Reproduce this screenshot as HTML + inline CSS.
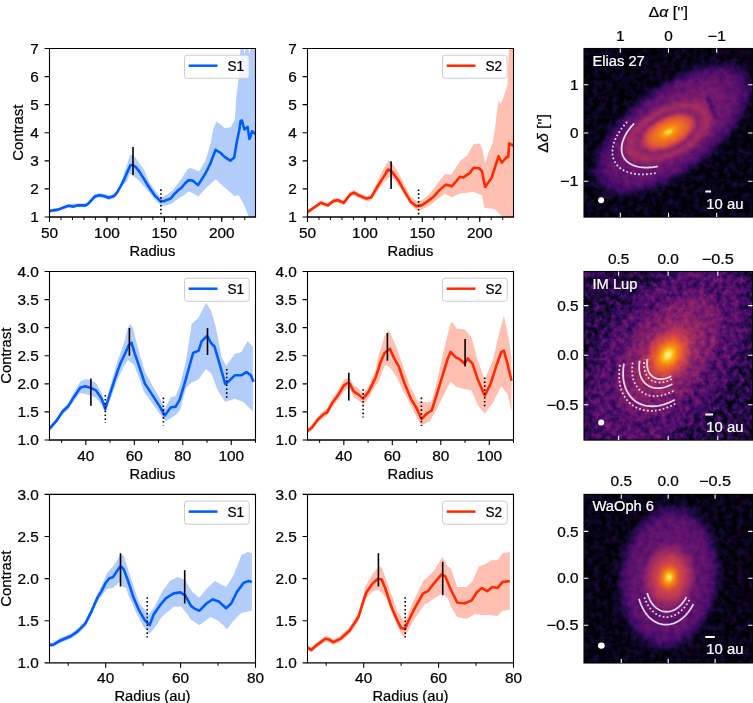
<!DOCTYPE html>
<html><head><meta charset="utf-8"><style>html,body{margin:0;padding:0;background:#fff;width:753px;height:703px;overflow:hidden}svg{display:block;will-change:transform}</style></head>
<body>
<svg width="753" height="703" viewBox="0 0 753 703" font-family="Liberation Sans, sans-serif" font-size="14" stroke-width="0.22">
<rect width="753" height="703" fill="#fff"/>
<defs>
<clipPath id="c11"><rect x="49.5" y="48.5" width="206" height="168.5"/></clipPath>
<clipPath id="c12"><rect x="307.5" y="48.5" width="206" height="168.5"/></clipPath>
<clipPath id="c21"><rect x="49.5" y="271.5" width="206" height="168.5"/></clipPath>
<clipPath id="c22"><rect x="307.5" y="271.5" width="206" height="168.5"/></clipPath>
<clipPath id="c31"><rect x="49.5" y="494.4" width="206" height="168.5"/></clipPath>
<clipPath id="c32"><rect x="307.5" y="494.4" width="206" height="168.5"/></clipPath>
</defs>
<g clip-path="url(#c11)">
<polygon points="49.5,209.6 58,208 68.5,204 78,203.5 86,203.6 94.7,194.4 99.2,193 104,193.8 108.7,195.6 114,193.6 117,190.5 120.7,183.8 123.5,175.1 127.5,163 129.9,155.3 132.7,154.8 137.3,160.3 143.8,169.6 150,183.3 155.5,190.7 160.2,197.2 163.9,196.2 168.5,193.5 172.2,191.1 175.9,186.1 182.3,177.7 187,169.4 190.7,168 196.2,170.3 199,171.6 205.4,160.7 210.5,144.1 213,130 216.2,121.8 220.7,124.4 224.6,128.2 231,127 234.8,119.3 236.1,100 238.7,77 240.6,47.5 243.6,47.5 244.6,54.5 245.6,47.5 248.2,47.5 249.3,54.5 250.4,47.5 256,47.5 256,217 248.9,217 243.8,204.3 238.7,195.3 234.2,195.9 230,192 223.3,186.3 215.6,179.3 206.6,187.6 198.3,196.6 193.4,193.5 188.8,191.6 182.3,196.2 177.7,199 171.3,204.1 163.9,205.9 161.1,205.5 155.5,200.4 150,193.5 143.8,186.2 137.3,178.8 132.7,176.1 129.9,173.3 127,182 123.5,184.4 120.7,188.6 117,195 114,198.2 108.7,200 104,198.2 99.2,197.4 94.7,198.8 86,207.2 78,207 68.5,207.4 58,211.2 49.5,212.8" fill="#b3cdfb"/>
<polyline points="49.5,211.2 50.3,210.8 58.2,209.6 62.8,207.7 68.5,205.7 73.6,206.6 78.2,205.2 85.6,205.4 88.4,203.7 94.7,196.6 99.2,195.2 103.8,196 108.7,197.8 114.2,195.9 117,192.7 120.7,186.2 124.4,178.8 127.6,171.4 130.4,165.4 132.7,165 135.5,166.8 139.2,171.4 143.8,178.8 150,188.8 154.6,195.3 160.2,200.9 163.9,201.3 166.6,199.9 170.8,198.5 174,194.4 178.7,189.8 181.4,187.9 185.1,183.3 188.8,180.1 192.5,180.5 198.1,185.1 205.4,173.5 210.5,163.3 215.6,149.8 220.7,153 224.6,156.9 230.3,160.7 234.2,157.5 236.7,142.8 239.3,130 240.6,121 241.9,120.5 244.4,129.5 247.6,127 249.5,139 252.1,131.3 255.3,133.8 256,133" fill="none" stroke="#005cff" stroke-width="2.6" stroke-linejoin="round" stroke-linecap="butt"/>
<line x1="133" y1="147" x2="133" y2="175" stroke="#000" stroke-width="1.6"/>
<line x1="160.9" y1="189.3" x2="160.9" y2="216.5" stroke="#000" stroke-width="1.6" stroke-dasharray="1.6 2.3"/>
</g>
<path d="M49.5 217V48.5H255.5V217" fill="none" stroke="#000" stroke-width="1.1"/>
<path d="M48.95 217H256.05" stroke="#000" stroke-width="1.3"/>
<path d="M49.5 217v4.9 M106.91 217v4.9 M164.33 217v4.9 M221.74 217v4.9" stroke="#000" stroke-width="1.1"/>
<path d="M60.98 217v2.9 M72.47 217v2.9 M83.95 217v2.9 M95.43 217v2.9 M106.91 217v2.9 M118.4 217v2.9 M129.88 217v2.9 M141.36 217v2.9 M152.84 217v2.9 M164.33 217v2.9 M175.81 217v2.9 M187.29 217v2.9 M198.78 217v2.9 M210.26 217v2.9 M221.74 217v2.9 M233.22 217v2.9 M244.71 217v2.9" stroke="#000" stroke-width="1.0"/>
<path d="M49.5 217h-4.9 M49.5 188.92h-4.9 M49.5 160.83h-4.9 M49.5 132.75h-4.9 M49.5 104.67h-4.9 M49.5 76.58h-4.9 M49.5 48.5h-4.9" stroke="#000" stroke-width="1.1"/>
<text x="38.9" y="222.1" text-anchor="end" stroke="#000" textLength="8.56" lengthAdjust="spacingAndGlyphs">1</text>
<text x="38.9" y="194.02" text-anchor="end" stroke="#000" textLength="8.56" lengthAdjust="spacingAndGlyphs">2</text>
<text x="38.9" y="165.93" text-anchor="end" stroke="#000" textLength="8.56" lengthAdjust="spacingAndGlyphs">3</text>
<text x="38.9" y="137.85" text-anchor="end" stroke="#000" textLength="8.56" lengthAdjust="spacingAndGlyphs">4</text>
<text x="38.9" y="109.77" text-anchor="end" stroke="#000" textLength="8.56" lengthAdjust="spacingAndGlyphs">5</text>
<text x="38.9" y="81.68" text-anchor="end" stroke="#000" textLength="8.56" lengthAdjust="spacingAndGlyphs">6</text>
<text x="38.9" y="53.6" text-anchor="end" stroke="#000" textLength="8.56" lengthAdjust="spacingAndGlyphs">7</text>
<text x="49.5" y="238.3" text-anchor="middle" stroke="#000" textLength="17.13" lengthAdjust="spacingAndGlyphs">50</text>
<text x="106.91" y="238.3" text-anchor="middle" stroke="#000" textLength="25.69" lengthAdjust="spacingAndGlyphs">100</text>
<text x="164.33" y="238.3" text-anchor="middle" stroke="#000" textLength="25.69" lengthAdjust="spacingAndGlyphs">150</text>
<text x="221.74" y="238.3" text-anchor="middle" stroke="#000" textLength="25.69" lengthAdjust="spacingAndGlyphs">200</text>
<text x="152.5" y="256.1" text-anchor="middle" stroke="#000" textLength="45.76" lengthAdjust="spacingAndGlyphs">Radius</text>
<g transform="translate(23.3 132.75) rotate(-90)"><text x="0" y="0" text-anchor="middle" stroke="#000" textLength="56.08" lengthAdjust="spacingAndGlyphs">Contrast</text></g>
<rect x="184.5" y="55.2" width="64.7" height="23.1" rx="2.8" fill="#fff" fill-opacity="0.8" stroke="#ccc" stroke-width="1"/>
<line x1="188.7" y1="65.7" x2="217.5" y2="65.7" stroke="#005cff" stroke-width="2.5"/>
<text x="227.4" y="70.7" stroke="#000" textLength="16.61" lengthAdjust="spacingAndGlyphs">S1</text>
<g clip-path="url(#c12)">
<polygon points="307.5,210.5 314.1,205.5 320.9,200.6 327.8,203.2 333.4,198.6 338,198 343.7,200.6 350.5,191.6 353.9,190 359.6,193.3 366.5,196 371,194.8 376.7,183 383.7,168 388.7,160.5 392,163 397.9,171.5 403.6,183 410.7,196.5 417.9,201.8 422.1,200 427.8,195.5 433.5,189 439.2,181 444.9,174 448,174.2 451.2,174.8 460.2,160.7 467.2,155.6 473.6,144.1 480,143.4 482.6,150.5 485.1,163.9 488.3,153 492.8,142.8 494.1,134.6 498.6,100 500.5,103.9 503.1,98.8 506.3,88.5 507.5,84.7 508.8,50.1 510.7,47 514,47 514,217.5 502,217.5 500.5,215.1 496.7,210.7 492.8,208.7 484.5,208.1 481.9,195.3 473.6,192.1 460.2,193.4 451.8,197.2 448,195.3 444.9,194 439.2,198 433.5,202.5 427.8,206.5 422.1,209.5 416.4,210.3 410.7,205 405,196 400,188 395,180 390,176.5 383.7,183 376.7,192 371,200.2 366.5,201.2 359.6,198.3 353.9,195.2 350.5,196.6 343.7,205.2 338,202.6 333.4,203.2 327.8,207.6 320.9,205 314.1,209.6 307.5,214.2" fill="#ffc0b2"/>
<polyline points="307.5,212.3 307.8,211.9 314.1,207.5 320.9,202.8 327.8,205.4 333.4,200.9 338,200.3 343.7,202.9 350.5,194.1 353.9,192.6 359.6,195.8 366.5,198.6 371,197.5 376.7,187.8 383.7,176.9 388,169.5 392.2,171.9 397.9,179.7 403.6,189.7 410.7,201.8 416.4,206.1 422.1,205.1 427.8,201.1 433.5,196.8 439.2,190.4 445.6,184.7 448,185.1 451.8,186.3 460.2,176.7 463.4,177.4 469.8,172.9 473.6,167.8 479.4,168.4 481.9,171 485.1,187 491.5,178 498.6,156.2 501.8,162.7 506.9,156.9 508.2,156.9 509.2,143.4 512.7,145.4 514,144" fill="none" stroke="#ff2a00" stroke-width="2.6" stroke-linejoin="round" stroke-linecap="butt"/>
<line x1="391.1" y1="161.3" x2="391.1" y2="189" stroke="#000" stroke-width="1.6"/>
<line x1="418.6" y1="189.4" x2="418.6" y2="216.5" stroke="#000" stroke-width="1.6" stroke-dasharray="1.6 2.3"/>
</g>
<path d="M307.5 217V48.5H513.5V217" fill="none" stroke="#000" stroke-width="1.1"/>
<path d="M306.95 217H514.05" stroke="#000" stroke-width="1.3"/>
<path d="M307.5 217v4.9 M364.91 217v4.9 M422.33 217v4.9 M479.74 217v4.9" stroke="#000" stroke-width="1.1"/>
<path d="M318.98 217v2.9 M330.47 217v2.9 M341.95 217v2.9 M353.43 217v2.9 M364.91 217v2.9 M376.4 217v2.9 M387.88 217v2.9 M399.36 217v2.9 M410.84 217v2.9 M422.33 217v2.9 M433.81 217v2.9 M445.29 217v2.9 M456.78 217v2.9 M468.26 217v2.9 M479.74 217v2.9 M491.22 217v2.9 M502.71 217v2.9" stroke="#000" stroke-width="1.0"/>
<path d="M307.5 217h-4.9 M307.5 188.92h-4.9 M307.5 160.83h-4.9 M307.5 132.75h-4.9 M307.5 104.67h-4.9 M307.5 76.58h-4.9 M307.5 48.5h-4.9" stroke="#000" stroke-width="1.1"/>
<text x="296.9" y="222.1" text-anchor="end" stroke="#000" textLength="8.56" lengthAdjust="spacingAndGlyphs">1</text>
<text x="296.9" y="194.02" text-anchor="end" stroke="#000" textLength="8.56" lengthAdjust="spacingAndGlyphs">2</text>
<text x="296.9" y="165.93" text-anchor="end" stroke="#000" textLength="8.56" lengthAdjust="spacingAndGlyphs">3</text>
<text x="296.9" y="137.85" text-anchor="end" stroke="#000" textLength="8.56" lengthAdjust="spacingAndGlyphs">4</text>
<text x="296.9" y="109.77" text-anchor="end" stroke="#000" textLength="8.56" lengthAdjust="spacingAndGlyphs">5</text>
<text x="296.9" y="81.68" text-anchor="end" stroke="#000" textLength="8.56" lengthAdjust="spacingAndGlyphs">6</text>
<text x="296.9" y="53.6" text-anchor="end" stroke="#000" textLength="8.56" lengthAdjust="spacingAndGlyphs">7</text>
<text x="307.5" y="238.3" text-anchor="middle" stroke="#000" textLength="17.13" lengthAdjust="spacingAndGlyphs">50</text>
<text x="364.91" y="238.3" text-anchor="middle" stroke="#000" textLength="25.69" lengthAdjust="spacingAndGlyphs">100</text>
<text x="422.33" y="238.3" text-anchor="middle" stroke="#000" textLength="25.69" lengthAdjust="spacingAndGlyphs">150</text>
<text x="479.74" y="238.3" text-anchor="middle" stroke="#000" textLength="25.69" lengthAdjust="spacingAndGlyphs">200</text>
<text x="410.5" y="256.1" text-anchor="middle" stroke="#000" textLength="45.76" lengthAdjust="spacingAndGlyphs">Radius</text>
<rect x="442.5" y="55.2" width="64.7" height="23.1" rx="2.8" fill="#fff" fill-opacity="0.8" stroke="#ccc" stroke-width="1"/>
<line x1="446.7" y1="65.7" x2="475.5" y2="65.7" stroke="#ff2a00" stroke-width="2.5"/>
<text x="485.4" y="70.7" stroke="#000" textLength="16.61" lengthAdjust="spacingAndGlyphs">S2</text>
<g clip-path="url(#c21)">
<polygon points="49.5,426.5 56.3,418.4 62.8,408.6 68.3,403.2 73.9,392.5 80.3,381.5 85,379.3 90.5,380 96,383 101.6,393 105.3,403.4 110.8,384 118.2,359 124,343 128,327.6 130,323.9 133,328 136,340 140,355 145,372 152.8,386 159.8,398 164.8,408.5 170.7,397.6 175.7,396 180,385 185.7,362 190,335 191.6,323.9 198.5,317.7 206,302.8 211.3,311.3 215.6,326.3 222,358.3 226.2,365.7 234.8,354 241.2,351.9 247.6,341.2 252.9,346.5 252.9,411.6 243.3,402 234.8,398.8 225.2,402 217.7,390.3 211.3,373.2 206,368.9 198.5,379.6 191,383 186,388 180,410 176,415 171.7,417.5 165.8,421.5 159.8,414 152.8,404 144,392 138,375 134,365 130,361.7 128,360 124,366 118.2,378 110.8,398 105.3,412.6 101.6,405 96,398 90.5,395.5 85,394.1 80.3,393 73.9,401 68.3,409.2 62.8,414 56.3,423.4 49.5,431.5" fill="#b3cdfb"/>
<polyline points="49.5,429 49.8,428.3 56.3,420.9 62.8,411.3 68.3,406.2 73.9,396.9 80.3,387.7 85,386.2 90.5,387.7 96,390.4 101.6,398.8 105.3,408.9 110.8,391.4 118.2,369.2 121,362 125,353.8 129,344.8 131.5,342.8 134.9,353.8 138.9,365.7 144.9,383.6 152.8,395.6 159.8,406.6 164.8,415.5 170.7,407.5 175.7,406.6 179.7,399.6 185.7,379.7 190,364 193.2,352.9 198.5,350.8 201.7,341.2 207.1,335.9 211.3,343.3 214.5,346.5 219.8,364.7 225.2,383.9 229.4,380.7 234.8,375.3 241.2,375.3 246.5,372.1 250.8,375.3 253.5,381.7" fill="none" stroke="#005cff" stroke-width="2.6" stroke-linejoin="round" stroke-linecap="butt"/>
<line x1="90.9" y1="378.4" x2="90.9" y2="405.8" stroke="#000" stroke-width="1.6"/>
<line x1="129.4" y1="327.9" x2="129.4" y2="355.8" stroke="#000" stroke-width="1.6"/>
<line x1="207.5" y1="328" x2="207.5" y2="355.1" stroke="#000" stroke-width="1.6"/>
<line x1="105.3" y1="395" x2="105.3" y2="422.8" stroke="#000" stroke-width="1.6" stroke-dasharray="1.6 2.3"/>
<line x1="163.4" y1="397.6" x2="163.4" y2="425.5" stroke="#000" stroke-width="1.6" stroke-dasharray="1.6 2.3"/>
<line x1="226.7" y1="368.9" x2="226.7" y2="397.7" stroke="#000" stroke-width="1.6" stroke-dasharray="1.6 2.3"/>
</g>
<path d="M49.5 440V271.5H255.5V440" fill="none" stroke="#000" stroke-width="1.1"/>
<path d="M48.95 440H256.05" stroke="#000" stroke-width="1.3"/>
<path d="M85.85 440v4.9 M134.32 440v4.9 M182.79 440v4.9 M231.26 440v4.9" stroke="#000" stroke-width="1.1"/>
<path d="M61.62 440v2.9 M110.09 440v2.9 M158.56 440v2.9 M207.03 440v2.9 M255.5 440v2.9" stroke="#000" stroke-width="1.0"/>
<path d="M49.5 440h-4.9 M49.5 411.92h-4.9 M49.5 383.83h-4.9 M49.5 355.75h-4.9 M49.5 327.67h-4.9 M49.5 299.58h-4.9 M49.5 271.5h-4.9" stroke="#000" stroke-width="1.1"/>
<text x="38.9" y="445.1" text-anchor="end" stroke="#000" textLength="21.41" lengthAdjust="spacingAndGlyphs">1.0</text>
<text x="38.9" y="417.02" text-anchor="end" stroke="#000" textLength="21.41" lengthAdjust="spacingAndGlyphs">1.5</text>
<text x="38.9" y="388.93" text-anchor="end" stroke="#000" textLength="21.41" lengthAdjust="spacingAndGlyphs">2.0</text>
<text x="38.9" y="360.85" text-anchor="end" stroke="#000" textLength="21.41" lengthAdjust="spacingAndGlyphs">2.5</text>
<text x="38.9" y="332.77" text-anchor="end" stroke="#000" textLength="21.41" lengthAdjust="spacingAndGlyphs">3.0</text>
<text x="38.9" y="304.68" text-anchor="end" stroke="#000" textLength="21.41" lengthAdjust="spacingAndGlyphs">3.5</text>
<text x="38.9" y="276.6" text-anchor="end" stroke="#000" textLength="21.41" lengthAdjust="spacingAndGlyphs">4.0</text>
<text x="85.85" y="460.9" text-anchor="middle" stroke="#000" textLength="17.13" lengthAdjust="spacingAndGlyphs">40</text>
<text x="134.32" y="460.9" text-anchor="middle" stroke="#000" textLength="17.13" lengthAdjust="spacingAndGlyphs">60</text>
<text x="182.79" y="460.9" text-anchor="middle" stroke="#000" textLength="17.13" lengthAdjust="spacingAndGlyphs">80</text>
<text x="231.26" y="460.9" text-anchor="middle" stroke="#000" textLength="25.69" lengthAdjust="spacingAndGlyphs">100</text>
<text x="152.5" y="479.2" text-anchor="middle" stroke="#000" textLength="45.76" lengthAdjust="spacingAndGlyphs">Radius</text>
<g transform="translate(10.6 355.75) rotate(-90)"><text x="0" y="0" text-anchor="middle" stroke="#000" textLength="56.08" lengthAdjust="spacingAndGlyphs">Contrast</text></g>
<rect x="184.5" y="278.2" width="64.7" height="23.1" rx="2.8" fill="#fff" fill-opacity="0.8" stroke="#ccc" stroke-width="1"/>
<line x1="188.7" y1="288.7" x2="217.5" y2="288.7" stroke="#005cff" stroke-width="2.5"/>
<text x="227.4" y="293.7" stroke="#000" textLength="16.61" lengthAdjust="spacingAndGlyphs">S1</text>
<g clip-path="url(#c22)">
<polygon points="307.5,428.5 312,424.8 317.9,416.5 323.9,410.5 326.9,408.8 331.9,399.5 337.8,390.8 343.8,380 347.8,377.7 350,378 353.8,385.5 358.7,388.5 363.1,393.6 368.7,386 375.6,370 378,357.8 384.6,335.8 388.9,329.9 395.9,345.8 403.9,368.7 410,386 417.8,401.6 422,401.5 427.8,402.6 431.7,401.6 437.7,378 443.7,350 450.6,322.9 452.3,322 456.5,328.4 465.1,329.5 471.4,336.9 477.8,360.4 484.7,379.6 492.8,360.4 499.2,332.7 503.9,315.6 508.8,339.1 511.5,358.3 511.5,411.6 507.7,394.5 501.3,386 492.8,403.1 484.7,413.7 477.8,405.2 471.4,390.3 465.1,389.2 456.5,387.1 450.6,381.7 443.7,395 437.7,407.5 429.7,421.5 421.4,425.5 416,416 409.8,403.6 403.9,392 397.9,379.7 392,370 388,365.7 384.6,365.7 378,383.6 375.6,385 368.7,398 363.7,404.6 358.7,400.5 353.8,397.5 350,389.5 347.8,388.6 343.8,391.2 337.8,400.4 331.9,407.7 326.9,416.2 323.9,417.3 317.9,422.5 312,430.2 307.5,433.5" fill="#ffc0b2"/>
<polyline points="307.5,431 312,427.5 317.9,419.5 323.9,413.9 326.9,412.5 331.9,403.6 337.8,395.6 343.8,385.6 347.8,382.7 349.8,383.6 353.8,391.6 358.7,394.6 363.1,398.6 368.7,391.6 375.6,377.7 380.6,362 384.6,353 389.9,348.8 393.9,357.8 398.9,366.7 403.9,381.7 410.8,398.6 416.8,408.5 421.4,419.1 426.8,413.5 431.7,410.5 437.7,391.6 443.7,371.7 448,358 450.6,351.9 455.5,357.2 459.7,359.3 464.6,363.6 467.6,358.3 472.5,363.6 477.8,379.6 484.7,395.6 490.6,383.9 496,366.8 501.3,351.9 503.9,350.8 507.7,364.7 511.5,380.7" fill="none" stroke="#ff2a00" stroke-width="2.6" stroke-linejoin="round" stroke-linecap="butt"/>
<line x1="348.8" y1="372.7" x2="348.8" y2="400.6" stroke="#000" stroke-width="1.6"/>
<line x1="387.4" y1="332.9" x2="387.4" y2="360.7" stroke="#000" stroke-width="1.6"/>
<line x1="465.1" y1="339.1" x2="465.1" y2="366.4" stroke="#000" stroke-width="1.6"/>
<line x1="363.1" y1="389.2" x2="363.1" y2="417.5" stroke="#000" stroke-width="1.6" stroke-dasharray="1.6 2.3"/>
<line x1="421.4" y1="397.6" x2="421.4" y2="425.9" stroke="#000" stroke-width="1.6" stroke-dasharray="1.6 2.3"/>
<line x1="484.7" y1="377.5" x2="484.7" y2="406.3" stroke="#000" stroke-width="1.6" stroke-dasharray="1.6 2.3"/>
</g>
<path d="M307.5 440V271.5H513.5V440" fill="none" stroke="#000" stroke-width="1.1"/>
<path d="M306.95 440H514.05" stroke="#000" stroke-width="1.3"/>
<path d="M343.85 440v4.9 M392.32 440v4.9 M440.79 440v4.9 M489.26 440v4.9" stroke="#000" stroke-width="1.1"/>
<path d="M319.62 440v2.9 M368.09 440v2.9 M416.56 440v2.9 M465.03 440v2.9 M513.5 440v2.9" stroke="#000" stroke-width="1.0"/>
<path d="M307.5 440h-4.9 M307.5 411.92h-4.9 M307.5 383.83h-4.9 M307.5 355.75h-4.9 M307.5 327.67h-4.9 M307.5 299.58h-4.9 M307.5 271.5h-4.9" stroke="#000" stroke-width="1.1"/>
<text x="296.9" y="445.1" text-anchor="end" stroke="#000" textLength="21.41" lengthAdjust="spacingAndGlyphs">1.0</text>
<text x="296.9" y="417.02" text-anchor="end" stroke="#000" textLength="21.41" lengthAdjust="spacingAndGlyphs">1.5</text>
<text x="296.9" y="388.93" text-anchor="end" stroke="#000" textLength="21.41" lengthAdjust="spacingAndGlyphs">2.0</text>
<text x="296.9" y="360.85" text-anchor="end" stroke="#000" textLength="21.41" lengthAdjust="spacingAndGlyphs">2.5</text>
<text x="296.9" y="332.77" text-anchor="end" stroke="#000" textLength="21.41" lengthAdjust="spacingAndGlyphs">3.0</text>
<text x="296.9" y="304.68" text-anchor="end" stroke="#000" textLength="21.41" lengthAdjust="spacingAndGlyphs">3.5</text>
<text x="296.9" y="276.6" text-anchor="end" stroke="#000" textLength="21.41" lengthAdjust="spacingAndGlyphs">4.0</text>
<text x="343.85" y="460.9" text-anchor="middle" stroke="#000" textLength="17.13" lengthAdjust="spacingAndGlyphs">40</text>
<text x="392.32" y="460.9" text-anchor="middle" stroke="#000" textLength="17.13" lengthAdjust="spacingAndGlyphs">60</text>
<text x="440.79" y="460.9" text-anchor="middle" stroke="#000" textLength="17.13" lengthAdjust="spacingAndGlyphs">80</text>
<text x="489.26" y="460.9" text-anchor="middle" stroke="#000" textLength="25.69" lengthAdjust="spacingAndGlyphs">100</text>
<text x="410.5" y="479.2" text-anchor="middle" stroke="#000" textLength="45.76" lengthAdjust="spacingAndGlyphs">Radius</text>
<rect x="442.5" y="278.2" width="64.7" height="23.1" rx="2.8" fill="#fff" fill-opacity="0.8" stroke="#ccc" stroke-width="1"/>
<line x1="446.7" y1="288.7" x2="475.5" y2="288.7" stroke="#ff2a00" stroke-width="2.5"/>
<text x="485.4" y="293.7" stroke="#000" textLength="16.61" lengthAdjust="spacingAndGlyphs">S2</text>
<g clip-path="url(#c31)">
<polygon points="49.5,643 53.3,642.4 60.4,638 71.1,633.4 77.3,628.8 85.3,620.5 91.6,607.6 97.8,592.8 101.3,586.5 106.7,573.8 112,567.6 116,562 121,554 123.8,555.9 129.6,574.2 139.2,603 148.8,614.5 154.5,606.8 162.2,591.5 169.9,580.9 177.6,577.1 185.2,579.9 191.9,591.5 199.3,597.4 206.5,589.1 214.7,580.9 226.1,587 233.3,575.7 241.5,555.1 247.7,552 251.8,553 251.8,610.8 241.5,612.8 233.3,621.1 227.1,629.3 218.8,621.1 210.6,617 199.3,625.2 190,619 189.1,616.4 181.4,606.8 173.7,606.8 162.2,616.4 154.5,628 149.7,633.7 143,626 135.3,610.7 127.7,593.4 126.2,588 121,585.7 120,581.8 112.9,588 106.7,588.9 101.3,596.7 97.8,601 91.6,614.6 85.3,626.7 77.3,634.4 71.1,638.6 60.4,643 53.3,646.8 49.5,647" fill="#b3cdfb"/>
<polyline points="49.5,645 53.3,644.6 60.4,640.5 71.1,636 77.3,631.6 85.3,623.6 91.6,611.1 97.8,596.9 101.3,591.6 105.8,582.7 109.3,578.2 112.9,577.3 116.4,572 120,566.7 121,566.5 123.8,569.4 127.7,579.9 133.4,597.2 139.2,610.7 144.9,620.3 149.7,625.1 153.6,614.5 160.3,604.9 166,598.2 173.7,593.4 180.4,592.4 185.2,595.3 191,605.9 194.1,608.3 199.3,610.8 206.5,603.5 212.7,599.4 218.8,601.5 226.1,608.3 231.2,603.5 237.4,591.2 243.6,582.9 248.7,580.9 251.8,581.9" fill="none" stroke="#005cff" stroke-width="2.6" stroke-linejoin="round" stroke-linecap="butt"/>
<line x1="120.5" y1="553.3" x2="120.5" y2="586.6" stroke="#000" stroke-width="1.6"/>
<line x1="184.7" y1="570.3" x2="184.7" y2="603.6" stroke="#000" stroke-width="1.6"/>
<line x1="147.2" y1="597.2" x2="147.2" y2="637.5" stroke="#000" stroke-width="1.6" stroke-dasharray="1.6 2.3"/>
</g>
<path d="M49.5 662.9V494.4H255.5V662.9" fill="none" stroke="#000" stroke-width="1.1"/>
<path d="M48.95 662.9H256.05" stroke="#000" stroke-width="1.3"/>
<path d="M105.68 662.9v4.9 M180.59 662.9v4.9 M255.5 662.9v4.9" stroke="#000" stroke-width="1.1"/>
<path d="M68.23 662.9v2.9 M143.14 662.9v2.9 M218.05 662.9v2.9" stroke="#000" stroke-width="1.0"/>
<path d="M49.5 662.9h-4.9 M49.5 620.77h-4.9 M49.5 578.65h-4.9 M49.5 536.52h-4.9 M49.5 494.4h-4.9" stroke="#000" stroke-width="1.1"/>
<text x="38.9" y="668" text-anchor="end" stroke="#000" textLength="21.41" lengthAdjust="spacingAndGlyphs">1.0</text>
<text x="38.9" y="625.88" text-anchor="end" stroke="#000" textLength="21.41" lengthAdjust="spacingAndGlyphs">1.5</text>
<text x="38.9" y="583.75" text-anchor="end" stroke="#000" textLength="21.41" lengthAdjust="spacingAndGlyphs">2.0</text>
<text x="38.9" y="541.62" text-anchor="end" stroke="#000" textLength="21.41" lengthAdjust="spacingAndGlyphs">2.5</text>
<text x="38.9" y="499.5" text-anchor="end" stroke="#000" textLength="21.41" lengthAdjust="spacingAndGlyphs">3.0</text>
<text x="105.68" y="683.4" text-anchor="middle" stroke="#000" textLength="17.13" lengthAdjust="spacingAndGlyphs">40</text>
<text x="180.59" y="683.4" text-anchor="middle" stroke="#000" textLength="17.13" lengthAdjust="spacingAndGlyphs">60</text>
<text x="255.5" y="683.4" text-anchor="middle" stroke="#000" textLength="17.13" lengthAdjust="spacingAndGlyphs">80</text>
<text x="152.5" y="700.6" text-anchor="middle" stroke="#000" textLength="75.98" lengthAdjust="spacingAndGlyphs">Radius (au)</text>
<g transform="translate(10.6 578.65) rotate(-90)"><text x="0" y="0" text-anchor="middle" stroke="#000" textLength="56.08" lengthAdjust="spacingAndGlyphs">Contrast</text></g>
<rect x="184.5" y="501.1" width="64.7" height="23.1" rx="2.8" fill="#fff" fill-opacity="0.8" stroke="#ccc" stroke-width="1"/>
<line x1="188.7" y1="511.6" x2="217.5" y2="511.6" stroke="#005cff" stroke-width="2.5"/>
<text x="227.4" y="516.6" stroke="#000" textLength="16.61" lengthAdjust="spacingAndGlyphs">S1</text>
<g clip-path="url(#c32)">
<polygon points="307.5,645.3 311.2,647.4 317.4,642 325.4,635.8 329,636.6 333.4,639.4 340.6,635.6 349.4,627.2 358.3,613 361.9,600.5 365.4,586.2 372.6,573.8 379.7,565.8 381.8,567.4 387.6,583.8 397.2,610.7 404.9,622.2 412.5,603 423.1,580.9 433.6,571.3 442.3,556.9 448,566.4 450.9,568.4 457.3,587 466.5,587 472.7,580.9 478.9,566.4 485.1,564.3 491.3,560.2 497.5,560.2 502.6,553 509.8,552 509.8,609.7 502.6,610.8 497.5,615.9 489.2,614.9 482,614.9 474.8,613.9 466.5,619 457.3,617 450.9,606.8 448,598.4 442.3,593.4 433.6,599.1 424,604.9 412.5,622.2 404.9,637.5 401,633.7 393.3,616.4 385.7,597.2 378.8,589.8 372.6,591.6 365.4,598.7 361.9,611 358.3,621.6 349.4,634.2 340.6,641.8 333.4,645 329,642.6 325.4,641.6 317.4,647.2 311.2,652.4 307.5,649.7" fill="#ffc0b2"/>
<polyline points="307.5,647.5 307.7,647.6 311.2,649.9 317.4,644.6 325.4,638.7 329,639.6 333.4,642.2 340.6,638.7 349.4,630.7 358.3,617.3 361.9,605.8 366.3,592.5 372.6,583.6 377.9,578.8 381.8,579.5 385.7,589.5 391.4,606.8 397.2,620.3 401,627.9 404.9,628.9 408.7,620.3 414.5,608.7 423.1,593.4 427.9,591.1 433.6,583.8 441.3,574.6 445.1,576.1 449.9,587.6 452.1,592.2 457.3,602.5 464.5,603.5 471.7,600.4 476.8,592.2 482,588.1 487.2,591.2 492.3,587 497.5,588.1 502.6,581.9 509.8,581.3" fill="none" stroke="#ff2a00" stroke-width="2.6" stroke-linejoin="round" stroke-linecap="butt"/>
<line x1="378.4" y1="553.3" x2="378.4" y2="586.6" stroke="#000" stroke-width="1.6"/>
<line x1="442.7" y1="561.7" x2="442.7" y2="595.3" stroke="#000" stroke-width="1.6"/>
<line x1="405.2" y1="597.2" x2="405.2" y2="637.5" stroke="#000" stroke-width="1.6" stroke-dasharray="1.6 2.3"/>
</g>
<path d="M307.5 662.9V494.4H513.5V662.9" fill="none" stroke="#000" stroke-width="1.1"/>
<path d="M306.95 662.9H514.05" stroke="#000" stroke-width="1.3"/>
<path d="M363.68 662.9v4.9 M438.59 662.9v4.9 M513.5 662.9v4.9" stroke="#000" stroke-width="1.1"/>
<path d="M326.23 662.9v2.9 M401.14 662.9v2.9 M476.05 662.9v2.9" stroke="#000" stroke-width="1.0"/>
<path d="M307.5 662.9h-4.9 M307.5 620.77h-4.9 M307.5 578.65h-4.9 M307.5 536.52h-4.9 M307.5 494.4h-4.9" stroke="#000" stroke-width="1.1"/>
<text x="296.9" y="668" text-anchor="end" stroke="#000" textLength="21.41" lengthAdjust="spacingAndGlyphs">1.0</text>
<text x="296.9" y="625.88" text-anchor="end" stroke="#000" textLength="21.41" lengthAdjust="spacingAndGlyphs">1.5</text>
<text x="296.9" y="583.75" text-anchor="end" stroke="#000" textLength="21.41" lengthAdjust="spacingAndGlyphs">2.0</text>
<text x="296.9" y="541.62" text-anchor="end" stroke="#000" textLength="21.41" lengthAdjust="spacingAndGlyphs">2.5</text>
<text x="296.9" y="499.5" text-anchor="end" stroke="#000" textLength="21.41" lengthAdjust="spacingAndGlyphs">3.0</text>
<text x="363.68" y="683.4" text-anchor="middle" stroke="#000" textLength="17.13" lengthAdjust="spacingAndGlyphs">40</text>
<text x="438.59" y="683.4" text-anchor="middle" stroke="#000" textLength="17.13" lengthAdjust="spacingAndGlyphs">60</text>
<text x="513.5" y="683.4" text-anchor="middle" stroke="#000" textLength="17.13" lengthAdjust="spacingAndGlyphs">80</text>
<text x="410.5" y="700.6" text-anchor="middle" stroke="#000" textLength="75.98" lengthAdjust="spacingAndGlyphs">Radius (au)</text>
<rect x="442.5" y="501.1" width="64.7" height="23.1" rx="2.8" fill="#fff" fill-opacity="0.8" stroke="#ccc" stroke-width="1"/>
<line x1="446.7" y1="511.6" x2="475.5" y2="511.6" stroke="#ff2a00" stroke-width="2.5"/>
<text x="485.4" y="516.6" stroke="#000" textLength="16.61" lengthAdjust="spacingAndGlyphs">S2</text>
<defs>
<clipPath id="ic0"><rect x="584" y="48.5" width="168.5" height="168.6"/></clipPath>
<filter id="inf0" filterUnits="userSpaceOnUse" x="584" y="48.5" width="168.5" height="168.6" color-interpolation-filters="sRGB"><feGaussianBlur in="SourceGraphic" stdDeviation="1.0" result="b"/><feTurbulence type="fractalNoise" baseFrequency="0.16" numOctaves="3" seed="3" result="n"/><feColorMatrix in="n" type="matrix" values="1 0 0 0 0  1 0 0 0 0  1 0 0 0 0  0 0 0 0 1" result="ng"/><feComposite in="b" in2="ng" operator="arithmetic" k1="-0.12" k2="0.06" k3="0.12" k4="0.44" result="m"/><feComposite in="b" in2="m" operator="arithmetic" k1="-2" k2="2" k3="2" k4="-1" result="c"/><feComponentTransfer in="c"><feFuncR type="table" tableValues="0 0.09 0.26 0.42 0.58 0.74 0.87 0.95 0.99 0.96 0.99"/><feFuncG type="table" tableValues="0 0.04 0.04 0.09 0.15 0.22 0.32 0.47 0.65 0.84 1"/><feFuncB type="table" tableValues="0.02 0.22 0.41 0.43 0.4 0.33 0.23 0.1 0.04 0.27 0.64"/><feFuncA type="linear" slope="0" intercept="1"/></feComponentTransfer></filter>
<radialGradient id="ig0_0" cx="0.5" cy="0.5" r="0.5">
<stop offset="0" stop-color="rgb(102,102,102)" stop-opacity="1"/>
<stop offset="0.38" stop-color="rgb(92,92,92)" stop-opacity="1"/>
<stop offset="0.53" stop-color="rgb(79,79,79)" stop-opacity="1"/>
<stop offset="0.67" stop-color="rgb(71,71,71)" stop-opacity="1"/>
<stop offset="0.75" stop-color="rgb(64,64,64)" stop-opacity="1"/>
<stop offset="0.82" stop-color="rgb(51,51,51)" stop-opacity="1"/>
<stop offset="0.88" stop-color="rgb(33,33,33)" stop-opacity="1"/>
<stop offset="0.93" stop-color="rgb(15,15,15)" stop-opacity="1"/>
<stop offset="1" stop-color="rgb(8,8,8)" stop-opacity="1"/>
</radialGradient>
<radialGradient id="ig0_1" cx="0.5" cy="0.5" r="0.5">
<stop offset="0" stop-color="rgb(255,255,255)" stop-opacity="1"/>
<stop offset="0.05" stop-color="rgb(235,235,235)" stop-opacity="1"/>
<stop offset="0.09" stop-color="rgb(204,204,204)" stop-opacity="1"/>
<stop offset="0.19" stop-color="rgb(184,184,184)" stop-opacity="1"/>
<stop offset="0.28" stop-color="rgb(173,173,173)" stop-opacity="1"/>
<stop offset="0.37" stop-color="rgb(161,161,161)" stop-opacity="1"/>
<stop offset="0.44" stop-color="rgb(148,148,148)" stop-opacity="1"/>
<stop offset="0.5" stop-color="rgb(128,128,128)" stop-opacity="1"/>
<stop offset="0.55" stop-color="rgb(107,107,107)" stop-opacity="1"/>
<stop offset="0.59" stop-color="rgb(94,94,94)" stop-opacity="1"/>
<stop offset="0.65" stop-color="rgb(99,99,99)" stop-opacity="1"/>
<stop offset="0.72" stop-color="rgb(110,110,110)" stop-opacity="1"/>
<stop offset="0.81" stop-color="rgb(110,110,110)" stop-opacity="1"/>
<stop offset="0.91" stop-color="rgb(99,99,99)" stop-opacity="0.5"/>
<stop offset="1" stop-color="rgb(92,92,92)" stop-opacity="0"/>
</radialGradient>
<clipPath id="ic1"><rect x="584" y="271.5" width="168.5" height="168.6"/></clipPath>
<filter id="inf1" filterUnits="userSpaceOnUse" x="584" y="271.5" width="168.5" height="168.6" color-interpolation-filters="sRGB"><feGaussianBlur in="SourceGraphic" stdDeviation="1.0" result="b"/><feTurbulence type="fractalNoise" baseFrequency="0.18" numOctaves="3" seed="10" result="n"/><feColorMatrix in="n" type="matrix" values="1 0 0 0 0  1 0 0 0 0  1 0 0 0 0  0 0 0 0 1" result="ng"/><feComposite in="b" in2="ng" operator="arithmetic" k1="-0.3" k2="0.15" k3="0.3" k4="0.35" result="m"/><feComposite in="b" in2="m" operator="arithmetic" k1="-2" k2="2" k3="2" k4="-1" result="c"/><feComponentTransfer in="c"><feFuncR type="table" tableValues="0 0.09 0.26 0.42 0.58 0.74 0.87 0.95 0.99 0.96 0.99"/><feFuncG type="table" tableValues="0 0.04 0.04 0.09 0.15 0.22 0.32 0.47 0.65 0.84 1"/><feFuncB type="table" tableValues="0.02 0.22 0.41 0.43 0.4 0.33 0.23 0.1 0.04 0.27 0.64"/><feFuncA type="linear" slope="0" intercept="1"/></feComponentTransfer></filter>
<radialGradient id="ig1_0" cx="0.5" cy="0.5" r="0.5">
<stop offset="0" stop-color="rgb(120,120,120)" stop-opacity="1"/>
<stop offset="0.15" stop-color="rgb(120,120,120)" stop-opacity="1"/>
<stop offset="0.19" stop-color="rgb(115,115,115)" stop-opacity="1"/>
<stop offset="0.24" stop-color="rgb(107,107,107)" stop-opacity="1"/>
<stop offset="0.3" stop-color="rgb(99,99,99)" stop-opacity="1"/>
<stop offset="0.36" stop-color="rgb(92,92,92)" stop-opacity="1"/>
<stop offset="0.41" stop-color="rgb(84,84,84)" stop-opacity="1"/>
<stop offset="0.46" stop-color="rgb(89,89,89)" stop-opacity="1"/>
<stop offset="0.5" stop-color="rgb(76,76,76)" stop-opacity="1"/>
<stop offset="0.55" stop-color="rgb(64,64,64)" stop-opacity="1"/>
<stop offset="0.59" stop-color="rgb(54,54,54)" stop-opacity="1"/>
<stop offset="0.64" stop-color="rgb(61,61,61)" stop-opacity="1"/>
<stop offset="0.68" stop-color="rgb(66,66,66)" stop-opacity="1"/>
<stop offset="0.74" stop-color="rgb(54,54,54)" stop-opacity="1"/>
<stop offset="0.85" stop-color="rgb(41,41,41)" stop-opacity="1"/>
<stop offset="1" stop-color="rgb(31,31,31)" stop-opacity="1"/>
</radialGradient>
<radialGradient id="ig1_1" cx="0.5" cy="0.5" r="0.5">
<stop offset="0" stop-color="rgb(255,255,255)" stop-opacity="1"/>
<stop offset="0.09" stop-color="rgb(242,242,242)" stop-opacity="1"/>
<stop offset="0.18" stop-color="rgb(217,217,217)" stop-opacity="1"/>
<stop offset="0.29" stop-color="rgb(191,191,191)" stop-opacity="1"/>
<stop offset="0.41" stop-color="rgb(171,171,171)" stop-opacity="1"/>
<stop offset="0.53" stop-color="rgb(153,153,153)" stop-opacity="1"/>
<stop offset="0.65" stop-color="rgb(138,138,138)" stop-opacity="1"/>
<stop offset="0.79" stop-color="rgb(125,125,125)" stop-opacity="0.6"/>
<stop offset="1" stop-color="rgb(115,115,115)" stop-opacity="0"/>
</radialGradient>
<clipPath id="ic2"><rect x="584" y="494.4" width="168.5" height="168.6"/></clipPath>
<filter id="inf2" filterUnits="userSpaceOnUse" x="584" y="494.4" width="168.5" height="168.6" color-interpolation-filters="sRGB"><feGaussianBlur in="SourceGraphic" stdDeviation="1.0" result="b"/><feTurbulence type="fractalNoise" baseFrequency="0.16" numOctaves="3" seed="17" result="n"/><feColorMatrix in="n" type="matrix" values="1 0 0 0 0  1 0 0 0 0  1 0 0 0 0  0 0 0 0 1" result="ng"/><feComposite in="b" in2="ng" operator="arithmetic" k1="-0.12" k2="0.06" k3="0.12" k4="0.44" result="m"/><feComposite in="b" in2="m" operator="arithmetic" k1="-2" k2="2" k3="2" k4="-1" result="c"/><feComponentTransfer in="c"><feFuncR type="table" tableValues="0 0.09 0.26 0.42 0.58 0.74 0.87 0.95 0.99 0.96 0.99"/><feFuncG type="table" tableValues="0 0.04 0.04 0.09 0.15 0.22 0.32 0.47 0.65 0.84 1"/><feFuncB type="table" tableValues="0.02 0.22 0.41 0.43 0.4 0.33 0.23 0.1 0.04 0.27 0.64"/><feFuncA type="linear" slope="0" intercept="1"/></feComponentTransfer></filter>
<radialGradient id="ig2_0" cx="0.5" cy="0.5" r="0.5">
<stop offset="0" stop-color="rgb(76,76,76)" stop-opacity="1"/>
<stop offset="0.38" stop-color="rgb(74,74,74)" stop-opacity="1"/>
<stop offset="0.5" stop-color="rgb(71,71,71)" stop-opacity="1"/>
<stop offset="0.62" stop-color="rgb(69,69,69)" stop-opacity="1"/>
<stop offset="0.75" stop-color="rgb(64,64,64)" stop-opacity="1"/>
<stop offset="0.81" stop-color="rgb(51,51,51)" stop-opacity="1"/>
<stop offset="0.88" stop-color="rgb(33,33,33)" stop-opacity="1"/>
<stop offset="0.94" stop-color="rgb(15,15,15)" stop-opacity="1"/>
<stop offset="1" stop-color="rgb(8,8,8)" stop-opacity="1"/>
</radialGradient>
<radialGradient id="ig2_1" cx="0.5" cy="0.5" r="0.5">
<stop offset="0" stop-color="rgb(255,255,255)" stop-opacity="1"/>
<stop offset="0.07" stop-color="rgb(235,235,235)" stop-opacity="1"/>
<stop offset="0.13" stop-color="rgb(204,204,204)" stop-opacity="1"/>
<stop offset="0.26" stop-color="rgb(166,166,166)" stop-opacity="1"/>
<stop offset="0.39" stop-color="rgb(140,140,140)" stop-opacity="1"/>
<stop offset="0.53" stop-color="rgb(128,128,128)" stop-opacity="1"/>
<stop offset="0.66" stop-color="rgb(110,110,110)" stop-opacity="1"/>
<stop offset="0.79" stop-color="rgb(94,94,94)" stop-opacity="1"/>
<stop offset="0.89" stop-color="rgb(79,79,79)" stop-opacity="0.6"/>
<stop offset="1" stop-color="rgb(74,74,74)" stop-opacity="0"/>
</radialGradient>
</defs>
<g clip-path="url(#ic0)"><g filter="url(#inf0)">
<rect x="584" y="48.5" width="168.5" height="168.6" fill="rgb(8,8,8)"/>
<ellipse cx="0" cy="0" rx="104" ry="47.84" fill="url(#ig0_0)" transform="translate(673 129) rotate(-37)"/>
<ellipse cx="0" cy="0" rx="54" ry="28.08" fill="url(#ig0_1)" transform="translate(668.4 132.1) rotate(-26)"/>
<path d="M708.5 98.5 Q711 106 715.8 117" fill="none" stroke="rgb(51,51,51)" stroke-opacity="0.8" stroke-width="5" stroke-linecap="round"/>
</g>
<polyline points="657.79,166.42 656.21,166.71 654.64,166.95 653.09,167.16 651.55,167.32 650.04,167.44 648.55,167.52 647.09,167.55 645.64,167.55 644.23,167.5 642.85,167.4 641.5,167.27 640.18,167.09 638.89,166.87 637.64,166.61 636.43,166.31 635.25,165.97 634.12,165.58 633.03,165.16 631.98,164.7 630.98,164.19 630.02,163.65 629.11,163.07 628.24,162.46 627.42,161.8 626.66,161.11 625.94,160.39 625.28,159.63 624.67,158.85 624.11,158.02 623.61,157.17 623.16,156.29 622.76,155.38 622.42,154.44 622.14,153.47 621.91,152.48 621.74,151.46 621.63,150.43 621.57,149.37 621.57,148.29 621.63,147.19 621.74,146.07 621.91,144.93 622.14,143.78 622.42,142.62 622.76,141.45 623.15,140.26 623.6,139.07 624.11,137.86 624.67,136.65 625.28,135.44 625.94,134.22 626.65,133 627.42,131.78 628.24,130.56 629.1,129.35 630.01,128.13 630.97,126.93 631.98,125.73 633.02,124.54 634.12,123.35" fill="none" stroke="#fff" stroke-opacity="0.82" stroke-width="1.8"/>
<polyline points="655.74,173.02 653.85,173.36 651.97,173.65 650.12,173.9 648.29,174.09 646.48,174.24 644.7,174.33 642.95,174.37 641.22,174.36 639.54,174.31 637.88,174.19 636.27,174.03 634.69,173.82 633.15,173.56 631.66,173.25 630.21,172.89 628.81,172.48 627.45,172.02 626.15,171.51 624.89,170.96 623.69,170.36 622.55,169.71 621.46,169.02 620.42,168.28 619.45,167.5 618.53,166.68 617.68,165.81 616.89,164.91 616.15,163.97 615.49,162.98 614.89,161.96 614.35,160.91 613.88,159.82 613.47,158.7 613.13,157.54 612.86,156.36 612.66,155.15 612.52,153.9 612.45,152.64 612.45,151.35 612.52,150.03 612.66,148.7 612.86,147.34 613.13,145.97 613.47,144.58 613.87,143.17 614.35,141.76 614.88,140.33 615.48,138.89 616.15,137.45 616.88,135.99 617.67,134.54 618.53,133.08 619.44,131.62 620.42,130.17 621.45,128.71 622.54,127.26 623.69,125.82 624.89,124.39 626.14,122.96 627.45,121.55" fill="none" stroke="#fff" stroke-opacity="0.82" stroke-width="1.8" stroke-dasharray="1.8 2.2"/>
<ellipse cx="601.1" cy="200.2" rx="3" ry="3" fill="#fff"/>
<line x1="705.3" y1="191.5" x2="711.05" y2="191.5" stroke="#fff" stroke-width="2"/>
<text x="743.4" y="209" text-anchor="end" stroke="#fff" textLength="37.13" lengthAdjust="spacingAndGlyphs" fill="#fff">10 au</text>
<text x="592.5" y="66" stroke="#fff" textLength="52.3" lengthAdjust="spacingAndGlyphs" fill="#fff">Elias 27</text>
</g>
<rect x="584" y="48.5" width="168.5" height="168.6" fill="none" stroke="#000" stroke-width="1.1"/>
<g clip-path="url(#ic1)"><g filter="url(#inf1)">
<rect x="584" y="271.5" width="168.5" height="168.6" fill="rgb(31,31,31)"/>
<ellipse cx="0" cy="0" rx="135" ry="75.6" fill="url(#ig1_0)" transform="translate(668.1 355) rotate(-54)"/>
<ellipse cx="0" cy="0" rx="34" ry="25.16" fill="url(#ig1_1)" transform="translate(668.1 355) rotate(-55)"/>
</g>
<polyline points="671.29,376.05 670.62,376.41 669.95,376.75 669.28,377.06 668.61,377.36 667.93,377.63 667.26,377.88 666.59,378.11 665.92,378.31 665.25,378.49 664.59,378.65 663.92,378.78 663.27,378.89 662.61,378.98 661.97,379.04 661.33,379.07 660.7,379.08 660.07,379.07 659.45,379.03 658.84,378.97 658.25,378.88 657.66,378.77 657.08,378.64 656.51,378.48 655.96,378.3 655.42,378.1 654.89,377.87 654.38,377.62 653.87,377.34 653.39,377.04 652.92,376.72 652.46,376.38 652.02,376.02 651.6,375.64 651.2,375.23 650.81,374.81 650.44,374.36 650.08,373.9 649.75,373.41 649.44,372.91 649.14,372.39 648.86,371.85 648.61,371.3 648.37,370.73 648.16,370.14 647.96,369.54 647.79,368.92 647.63,368.29 647.5,367.65 647.39,366.99 647.3,366.32 647.23,365.64 647.18,364.95 647.16,364.25 647.15,363.54 647.17,362.82 647.21,362.1 647.27,361.36 647.35,360.62 647.45,359.88 647.58,359.13" fill="none" stroke="#fff" stroke-opacity="0.82" stroke-width="1.8"/>
<polyline points="672.47,383.95 671.55,384.45 670.62,384.92 669.69,385.36 668.76,385.76 667.83,386.14 666.9,386.49 665.98,386.8 665.05,387.08 664.13,387.33 663.21,387.55 662.29,387.73 661.39,387.88 660.49,387.99 659.59,388.08 658.71,388.13 657.84,388.14 656.97,388.12 656.12,388.07 655.28,387.99 654.45,387.87 653.64,387.72 652.84,387.53 652.06,387.31 651.3,387.06 650.55,386.78 649.82,386.46 649.11,386.12 648.42,385.74 647.75,385.33 647.1,384.89 646.47,384.42 645.86,383.91 645.28,383.38 644.72,382.82 644.18,382.24 643.67,381.62 643.18,380.98 642.72,380.31 642.29,379.62 641.88,378.9 641.5,378.16 641.15,377.39 640.82,376.6 640.52,375.79 640.25,374.96 640.01,374.11 639.8,373.24 639.61,372.35 639.46,371.44 639.34,370.52 639.24,369.58 639.18,368.63 639.14,367.66 639.13,366.68 639.16,365.69 639.21,364.69 639.29,363.67 639.41,362.65 639.55,361.63 639.72,360.59" fill="none" stroke="#fff" stroke-opacity="0.82" stroke-width="1.8"/>
<polyline points="674.82,399.76 673.39,400.53 671.96,401.26 670.52,401.94 669.08,402.57 667.63,403.16 666.19,403.69 664.75,404.18 663.31,404.62 661.88,405 660.45,405.34 659.04,405.62 657.63,405.85 656.23,406.03 654.85,406.16 653.47,406.24 652.12,406.26 650.78,406.23 649.46,406.15 648.15,406.02 646.87,405.84 645.61,405.6 644.37,405.32 643.16,404.98 641.97,404.59 640.81,404.15 639.68,403.66 638.58,403.12 637.5,402.53 636.46,401.89 635.45,401.21 634.48,400.48 633.54,399.7 632.63,398.88 631.76,398.01 630.93,397.1 630.14,396.15 629.38,395.15 628.67,394.11 627.99,393.04 627.36,391.92 626.77,390.77 626.22,389.58 625.71,388.36 625.25,387.1 624.83,385.81 624.46,384.49 624.13,383.13 623.84,381.75 623.6,380.35 623.41,378.91 623.26,377.46 623.16,375.98 623.11,374.48 623.1,372.96 623.13,371.42 623.22,369.86 623.35,368.29 623.52,366.71 623.74,365.12 624.01,363.51" fill="none" stroke="#fff" stroke-opacity="0.82" stroke-width="1.8"/>
<polyline points="671.73,379.01 670.97,379.42 670.2,379.81 669.44,380.17 668.67,380.51 667.9,380.82 667.13,381.11 666.36,381.37 665.59,381.6 664.83,381.81 664.07,381.99 663.31,382.14 662.56,382.26 661.82,382.36 661.08,382.43 660.35,382.47 659.62,382.48 658.91,382.47 658.2,382.42 657.51,382.35 656.82,382.25 656.15,382.13 655.49,381.97 654.85,381.79 654.21,381.59 653.59,381.35 652.99,381.09 652.4,380.8 651.83,380.49 651.27,380.15 650.73,379.79 650.21,379.4 649.71,378.98 649.23,378.54 648.77,378.08 648.32,377.59 647.9,377.08 647.5,376.55 647.12,376 646.76,375.43 646.42,374.83 646.1,374.22 645.81,373.58 645.54,372.93 645.29,372.26 645.07,371.57 644.87,370.87 644.69,370.14 644.54,369.41 644.42,368.66 644.31,367.89 644.23,367.12 644.18,366.33 644.15,365.53 644.15,364.72 644.17,363.9 644.21,363.07 644.28,362.23 644.37,361.39 644.49,360.53 644.63,359.68" fill="none" stroke="#fff" stroke-opacity="0.82" stroke-width="1.8" stroke-dasharray="1.8 2.2"/>
<polyline points="673.5,390.86 672.35,391.48 671.21,392.07 670.05,392.61 668.9,393.12 667.75,393.59 666.59,394.01 665.44,394.4 664.29,394.75 663.14,395.06 662,395.33 660.87,395.56 659.74,395.74 658.62,395.89 657.52,395.99 656.42,396.05 655.33,396.07 654.26,396.05 653.2,395.98 652.16,395.88 651.14,395.73 650.13,395.54 649.14,395.31 648.17,395.04 647.22,394.73 646.29,394.38 645.38,393.99 644.5,393.56 643.64,393.08 642.81,392.58 642,392.03 641.22,391.44 640.47,390.82 639.74,390.16 639.05,389.47 638.38,388.74 637.75,387.98 637.15,387.18 636.57,386.35 636.03,385.49 635.53,384.6 635.05,383.67 634.61,382.72 634.21,381.74 633.84,380.74 633.5,379.71 633.21,378.65 632.94,377.57 632.71,376.46 632.52,375.34 632.37,374.19 632.25,373.03 632.17,371.84 632.13,370.64 632.12,369.43 632.15,368.19 632.21,366.95 632.32,365.69 632.46,364.43 632.63,363.15 632.85,361.87" fill="none" stroke="#fff" stroke-opacity="0.82" stroke-width="1.8" stroke-dasharray="1.8 2.2"/>
<polyline points="675.41,403.71 673.85,404.55 672.29,405.34 670.72,406.08 669.15,406.77 667.58,407.41 666.01,407.99 664.44,408.52 662.88,409 661.32,409.42 659.77,409.78 658.22,410.09 656.69,410.35 655.17,410.54 653.66,410.68 652.17,410.77 650.69,410.79 649.23,410.76 647.79,410.68 646.37,410.53 644.98,410.33 643.6,410.07 642.26,409.76 640.93,409.39 639.64,408.97 638.38,408.49 637.14,407.96 635.94,407.37 634.77,406.73 633.64,406.04 632.54,405.29 631.48,404.49 630.46,403.65 629.47,402.75 628.52,401.81 627.62,400.81 626.75,399.78 625.93,398.69 625.15,397.56 624.42,396.39 623.73,395.18 623.08,393.92 622.49,392.63 621.94,391.29 621.43,389.92 620.98,388.52 620.57,387.08 620.21,385.61 619.9,384.11 619.64,382.57 619.43,381.01 619.27,379.43 619.16,377.82 619.1,376.18 619.09,374.53 619.13,372.85 619.22,371.16 619.36,369.45 619.55,367.72 619.79,365.99 620.08,364.24" fill="none" stroke="#fff" stroke-opacity="0.82" stroke-width="1.8" stroke-dasharray="1.8 2.2"/>
<ellipse cx="601.2" cy="422.6" rx="3" ry="3" fill="#fff"/>
<line x1="705.3" y1="414.5" x2="713.05" y2="414.5" stroke="#fff" stroke-width="2"/>
<text x="743.4" y="432" text-anchor="end" stroke="#fff" textLength="37.13" lengthAdjust="spacingAndGlyphs" fill="#fff">10 au</text>
<text x="592.5" y="289" stroke="#fff" textLength="44.94" lengthAdjust="spacingAndGlyphs" fill="#fff">IM Lup</text>
</g>
<rect x="584" y="271.5" width="168.5" height="168.6" fill="none" stroke="#000" stroke-width="1.1"/>
<g clip-path="url(#ic2)"><g filter="url(#inf2)">
<rect x="584" y="494.4" width="168.5" height="168.6" fill="rgb(8,8,8)"/>
<ellipse cx="0" cy="0" rx="80" ry="55.2" fill="url(#ig2_0)" transform="translate(669 577.3) rotate(-83)"/>
<ellipse cx="0" cy="0" rx="38" ry="30.4" fill="url(#ig2_1)" transform="translate(669 577.3) rotate(-83)"/>
</g>
<polyline points="686.41,596.98 685.9,597.94 685.37,598.87 684.82,599.78 684.25,600.66 683.66,601.52 683.05,602.35 682.43,603.14 681.79,603.91 681.13,604.65 680.45,605.35 679.77,606.02 679.06,606.66 678.35,607.26 677.62,607.83 676.88,608.36 676.13,608.85 675.38,609.31 674.61,609.73 673.84,610.11 673.06,610.46 672.27,610.76 671.48,611.02 670.69,611.25 669.89,611.43 669.09,611.57 668.29,611.68 667.49,611.74 666.7,611.76 665.9,611.74 665.11,611.68 664.32,611.58 663.54,611.44 662.76,611.26 661.99,611.04 661.23,610.78 660.48,610.48 659.73,610.13 659,609.76 658.28,609.34 657.57,608.88 656.88,608.39 656.19,607.86 655.53,607.3 654.88,606.7 654.24,606.06 653.63,605.39 653.03,604.69 652.45,603.96 651.89,603.19 651.35,602.39 650.83,601.57 650.33,600.72 649.86,599.84 649.41,598.93 648.98,598 648.57,597.04 648.19,596.06 647.84,595.06 647.5,594.04 647.2,593" fill="none" stroke="#fff" stroke-opacity="0.82" stroke-width="1.8"/>
<polyline points="693.33,604.2 692.63,605.53 691.89,606.82 691.13,608.08 690.34,609.31 689.52,610.49 688.68,611.64 687.81,612.74 686.92,613.81 686.01,614.83 685.07,615.8 684.12,616.73 683.14,617.62 682.15,618.45 681.15,619.24 680.12,619.97 679.08,620.66 678.03,621.29 676.97,621.88 675.9,622.4 674.82,622.88 673.73,623.3 672.63,623.67 671.53,623.98 670.43,624.23 669.32,624.43 668.21,624.57 667.11,624.66 666,624.69 664.9,624.66 663.8,624.58 662.71,624.44 661.62,624.25 660.54,623.99 659.48,623.69 658.42,623.32 657.38,622.91 656.35,622.43 655.33,621.91 654.33,621.33 653.35,620.7 652.38,620.02 651.44,619.28 650.52,618.5 649.61,617.67 648.74,616.79 647.88,615.86 647.05,614.89 646.25,613.87 645.47,612.81 644.72,611.7 644.01,610.56 643.32,609.38 642.66,608.16 642.03,606.9 641.44,605.61 640.87,604.28 640.35,602.92 639.85,601.54 639.39,600.12 638.97,598.68" fill="none" stroke="#fff" stroke-opacity="0.82" stroke-width="1.8"/>
<polyline points="689.26,599.96 688.67,601.06 688.06,602.15 687.42,603.2 686.76,604.22 686.07,605.21 685.37,606.17 684.65,607.1 683.9,607.99 683.14,608.84 682.36,609.65 681.56,610.43 680.74,611.17 679.92,611.87 679.07,612.53 678.22,613.14 677.35,613.72 676.47,614.25 675.58,614.73 674.69,615.17 673.78,615.57 672.87,615.92 671.95,616.23 671.03,616.49 670.11,616.7 669.19,616.87 668.26,616.99 667.33,617.06 666.41,617.09 665.49,617.06 664.57,616.99 663.66,616.88 662.75,616.71 661.85,616.5 660.96,616.25 660.07,615.94 659.2,615.59 658.34,615.2 657.49,614.76 656.65,614.28 655.83,613.75 655.03,613.18 654.24,612.56 653.46,611.91 652.71,611.21 651.98,610.48 651.26,609.7 650.57,608.89 649.9,608.04 649.25,607.15 648.62,606.23 648.02,605.27 647.44,604.28 646.89,603.26 646.37,602.21 645.87,601.13 645.4,600.02 644.96,598.89 644.55,597.73 644.16,596.54 643.81,595.34" fill="none" stroke="#fff" stroke-opacity="0.82" stroke-width="1.8" stroke-dasharray="1.8 2.2"/>
<ellipse cx="601.3" cy="645.6" rx="3.4" ry="3.2" fill="#fff"/>
<line x1="705.3" y1="637" x2="714.8" y2="637" stroke="#fff" stroke-width="2"/>
<text x="743.4" y="653.8" text-anchor="end" stroke="#fff" textLength="37.13" lengthAdjust="spacingAndGlyphs" fill="#fff">10 au</text>
<text x="592.5" y="511.3" stroke="#fff" textLength="61.55" lengthAdjust="spacingAndGlyphs" fill="#fff">WaOph 6</text>
</g>
<rect x="584" y="494.4" width="168.5" height="168.6" fill="none" stroke="#000" stroke-width="1.1"/>
<path d="M620.3 48.5v4.3 M620.3 217.1v-4.3 M584 84.8h4.3 M752.5 84.8h-4.3 M668.5 48.5v4.3 M668.5 217.1v-4.3 M584 133h4.3 M752.5 133h-4.3 M716.7 48.5v4.3 M716.7 217.1v-4.3 M584 181.2h4.3 M752.5 181.2h-4.3" stroke="#fff" stroke-width="1.1"/>
<text x="620.3" y="40.5" text-anchor="middle" stroke="#000" textLength="8.56" lengthAdjust="spacingAndGlyphs">1</text>
<text x="578.6" y="89.9" text-anchor="end" stroke="#000" textLength="8.56" lengthAdjust="spacingAndGlyphs">1</text>
<text x="668.5" y="40.5" text-anchor="middle" stroke="#000" textLength="8.56" lengthAdjust="spacingAndGlyphs">0</text>
<text x="578.6" y="138.1" text-anchor="end" stroke="#000" textLength="8.56" lengthAdjust="spacingAndGlyphs">0</text>
<text x="716.7" y="40.5" text-anchor="middle" stroke="#000" textLength="18.52" lengthAdjust="spacingAndGlyphs">−1</text>
<text x="578.6" y="186.3" text-anchor="end" stroke="#000" textLength="18.52" lengthAdjust="spacingAndGlyphs">−1</text>
<path d="M618.6 271.5v4.3 M618.6 440.1v-4.3 M584 305.6h4.3 M752.5 305.6h-4.3 M668.2 271.5v4.3 M668.2 440.1v-4.3 M584 355.2h4.3 M752.5 355.2h-4.3 M717.8 271.5v4.3 M717.8 440.1v-4.3 M584 404.8h4.3 M752.5 404.8h-4.3" stroke="#fff" stroke-width="1.1"/>
<text x="618.6" y="263.5" text-anchor="middle" stroke="#000" textLength="21.41" lengthAdjust="spacingAndGlyphs">0.5</text>
<text x="578.6" y="310.7" text-anchor="end" stroke="#000" textLength="21.41" lengthAdjust="spacingAndGlyphs">0.5</text>
<text x="668.2" y="263.5" text-anchor="middle" stroke="#000" textLength="21.41" lengthAdjust="spacingAndGlyphs">0.0</text>
<text x="578.6" y="360.3" text-anchor="end" stroke="#000" textLength="21.41" lengthAdjust="spacingAndGlyphs">0.0</text>
<text x="717.8" y="263.5" text-anchor="middle" stroke="#000" textLength="32.06" lengthAdjust="spacingAndGlyphs">−0.5</text>
<text x="578.6" y="409.9" text-anchor="end" stroke="#000" textLength="32.06" lengthAdjust="spacingAndGlyphs">−0.5</text>
<path d="M621.3 494.4v4.3 M621.3 663v-4.3 M584 531.4h4.3 M752.5 531.4h-4.3 M668.2 494.4v4.3 M668.2 663v-4.3 M584 578.3h4.3 M752.5 578.3h-4.3 M715.1 494.4v4.3 M715.1 663v-4.3 M584 625.2h4.3 M752.5 625.2h-4.3" stroke="#fff" stroke-width="1.1"/>
<text x="621.3" y="486.4" text-anchor="middle" stroke="#000" textLength="21.41" lengthAdjust="spacingAndGlyphs">0.5</text>
<text x="578.6" y="536.5" text-anchor="end" stroke="#000" textLength="21.41" lengthAdjust="spacingAndGlyphs">0.5</text>
<text x="668.2" y="486.4" text-anchor="middle" stroke="#000" textLength="21.41" lengthAdjust="spacingAndGlyphs">0.0</text>
<text x="578.6" y="583.4" text-anchor="end" stroke="#000" textLength="21.41" lengthAdjust="spacingAndGlyphs">0.0</text>
<text x="715.1" y="486.4" text-anchor="middle" stroke="#000" textLength="32.06" lengthAdjust="spacingAndGlyphs">−0.5</text>
<text x="578.6" y="630.3" text-anchor="end" stroke="#000" textLength="32.06" lengthAdjust="spacingAndGlyphs">−0.5</text>
<text x="668.2" y="16.7" text-anchor="middle" stroke="#000" textLength="39.5" lengthAdjust="spacingAndGlyphs">Δ<tspan font-style="italic">α</tspan> ['']</text>
<text transform="translate(547.6 133.4) rotate(-90)" text-anchor="middle" stroke="#000" textLength="38.5" lengthAdjust="spacingAndGlyphs">Δ<tspan font-style="italic">δ</tspan> ['']</text>
</svg>
</body></html>
